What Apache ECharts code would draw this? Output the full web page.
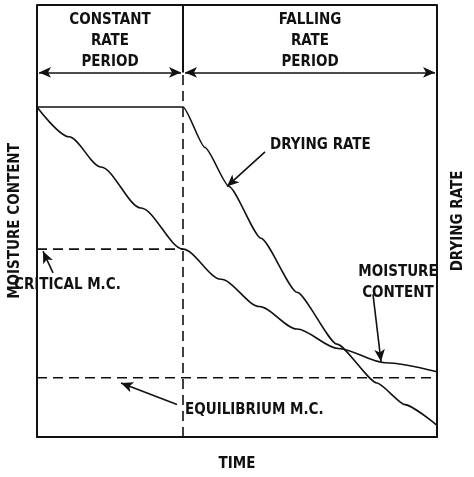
<!DOCTYPE html>
<html>
<head>
<meta charset="utf-8">
<script src="https://cdn.jsdelivr.net/npm/echarts@6/dist/echarts.min.js"></script>
<style>body{margin:0;background:#fff}</style>
</head>
<body>
<div id="main" style="width:474px;height:477px;"></div>
<script>
var chart = echarts.init(document.getElementById('main'))
var F = '"DejaVu Sans Condensed","Liberation Sans Narrow",sans-serif'

// schematic data, time 0..100, value 0..100
var dryingRate = [[0, 76.4], [36.5, 76.4], [42, 67], [48, 58], [56, 46], [65, 33.5], [75, 21.5], [85, 12.5], [92, 7.5], [100, 2.7]]
var moisture = [[0, 76.4], [8, 69.5], [16, 62.5], [26, 53], [36.5, 43.5], [46, 36.5], [55.6, 30.2], [65, 25], [75.3, 20.5], [87, 17.2], [100, 15.1]]
var criticalMC = [[0, 43.5], [36.5, 43.5]]
var equilibriumMC = [[0, 13.7], [100, 13.7]]
var divider = 36.5
var arrowY = 84.4

var thin = {color: '#111', width: 1.6}
function arrow(a, b) {
    return [{coord: a, symbol: 'none'}, {coord: b, symbol: 'arrow'}]
}
function txt(x, y, s, align) {
    return {type: 'text', x: x, y: y, style: {text: s, textAlign: align || 'left', font: 'bold 15px ' + F, lineHeight: 21, fill: '#111'}}
}

var axisName = {fontFamily: F, fontWeight: 'bold', fontSize: 15, color: '#111'}
var option = {
    animation: false,
    grid: {left: 35, right: 34, top: 5, bottom: 35},
    xAxis: {
        type: 'value', min: 0, max: 100,
        axisLine: {onZero: false, lineStyle: {color: '#111', width: 2}},
        axisTick: {show: false}, axisLabel: {show: false}, splitLine: {show: false},
        name: 'TIME', nameLocation: 'middle', nameGap: 20, nameTextStyle: axisName
    },
    yAxis: [{
        type: 'value', min: 0, max: 100,
        axisLine: {show: true, lineStyle: {color: '#111', width: 2}},
        axisTick: {show: false}, axisLabel: {show: false}, splitLine: {show: false},
        name: 'MOISTURE CONTENT', nameLocation: 'middle', nameGap: 14, nameTextStyle: axisName
    }, {
        type: 'value', min: 0, max: 100, position: 'right',
        axisLine: {show: true, lineStyle: {color: '#111', width: 2}},
        axisTick: {show: false}, axisLabel: {show: false}, splitLine: {show: false},
        name: 'DRYING RATE', nameLocation: 'middle', nameGap: 14, nameRotate: 90, nameTextStyle: axisName
    }],
    series: [
        {type: 'line', data: dryingRate, smooth: 0.2, smoothMonotone: 'x', showSymbol: false, lineStyle: thin},
        {type: 'line', data: moisture, smooth: 0.3, smoothMonotone: 'x', showSymbol: false, lineStyle: thin},
        {type: 'line', data: criticalMC, showSymbol: false, lineStyle: {color: '#111', width: 1.6, type: [10, 6]}},
        {type: 'line', data: equilibriumMC, showSymbol: false, lineStyle: {color: '#111', width: 1.6, type: [10, 6]}},
        {type: 'line', data: [[divider, 0], [divider, arrowY]], showSymbol: false, lineStyle: {color: '#111', width: 1.6, type: [10, 6]}},
        {type: 'line', data: [[divider, arrowY], [divider, 100]], showSymbol: false, lineStyle: {color: '#111', width: 2}},
        {type: 'line', data: [[0, 100], [100, 100]], showSymbol: false, lineStyle: {color: '#111', width: 2}},
        {
            type: 'line', data: [], silent: true,
            markLine: {
                silent: true, symbolSize: [8, 12], label: {show: false},
                lineStyle: {color: '#111', width: 1.6, type: 'solid'},
                data: [
                    arrow([18, arrowY], [0.5, arrowY]),
                    arrow([18, arrowY], [36, arrowY]),
                    arrow([68, arrowY], [37, arrowY]),
                    arrow([68, arrowY], [99.5, arrowY]),
                    arrow([57, 66], [47.5, 58]),
                    arrow([84, 33], [86, 17.5]),
                    arrow([4, 38], [1.5, 43]),
                    arrow([35, 7.5], [21, 12.5])
                ]
            }
        }
    ],
    graphic: [
        txt(110, 10, 'CONSTANT\nRATE\nPERIOD', 'center'),
        txt(310, 10, 'FALLING\nRATE\nPERIOD', 'center'),
        txt(270, 135, 'DRYING RATE'),
        txt(398, 262, 'MOISTURE\nCONTENT', 'center'),
        {type: 'text', x: 14, y: 278, style: {text: 'CRITICAL M.C.', font: 'bold 15px ' + F, fill: '#111', backgroundColor: '#fff'}},
        txt(185, 400, 'EQUILIBRIUM M.C.')
    ]
}
chart.setOption(option)
</script>
</body>
</html>
